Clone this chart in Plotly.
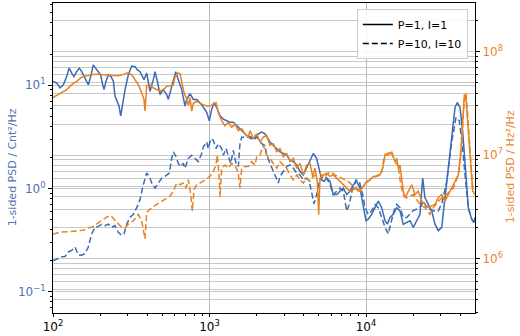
import plotly.graph_objects as go

# ---- data ----
f_p1_cnt = [100, 105.6, 110.8, 116.4, 122.3, 126.6, 131.7, 136.2, 141.7, 147.3, 152.6, 156.2, 162.5, 168.1,
            174.1, 180.9, 190.2, 194.7, 201.7, 206.5, 211.8, 218.1, 225.6, 234.8, 242.9, 249.1, 258, 264.1,
            270.8, 278.9, 288.6, 302.9, 318.4, 334.2, 345, 359.7, 374.2, 381.5, 397, 416.8, 437.6, 448.7,
            464.1, 482.9, 506.9, 532.8, 545.5, 559.3, 587.1, 608.1, 631.9, 664.3, 697.5, 715.2, 750.8, 788.1,
            828.5, 869.7, 912.9, 959.6, 997, 1033, 1069, 1112, 1167, 1225, 1288, 1352, 1420, 1493, 1566, 1644,
            1729, 1861, 1953, 2050, 2155, 2262, 2435, 2556, 2688, 2821, 2962, 3114, 3269, 3432, 3608, 3787,
            3976, 4180, 4387, 4606, 4842, 5030, 5211, 5391, 5609, 5888, 6181, 6497, 6822, 7161, 7528, 7903,
            8295, 8721, 9155, 9610, 10000, 10340, 10870, 11410, 11980, 12600, 13230, 13680, 14230, 14940,
            15710, 16490, 17310, 18200, 19110, 20060, 21090, 22130, 23030, 23820, 25010, 26290, 27600, 28970,
            30460, 31970, 33570, 35290, 37060, 38330, 39870, 41490, 42920, 44010, 45050, 47360, 48990, 49720]
psd_p1_cnt = [10.87, 10.5, 9.4, 10.1, 12.1, 14.6, 13.1, 12.1, 13.5, 14.6, 13.5, 12.6, 11.3, 10.1,
              12.1, 15.7, 14.1, 13.5, 12.6, 10.5, 9.06, 10.9, 12.6, 12.1, 10.9, 7.82, 7.01, 6.28,
              5.05, 6.77, 9.06, 12.6, 15.3, 15.1, 14.1, 13.5, 12.1, 11.3, 13.1, 8.73, 11.3, 13.5,
              10.9, 8.12, 9.06, 8.12, 7.28, 8.43, 10.9, 13.5, 11.3, 9.06, 6.28, 7.28, 8.3, 7.28,
              7.28, 6.77, 6.11, 5.47, 4.52, 5.84, 6.77, 6.07, 5.05, 4.69, 4.52, 4.37, 4.37, 4.05, 3.77, 3.51,
              3.25, 3.14, 3.03, 3.38, 3.51, 3.38, 2.82, 2.61, 2.43, 2.26, 2.18, 2.1, 1.88, 1.82, 1.69, 1.46,
              1.35, 1.57, 1.88, 2.18, 1.95, 1.57, 1.21, 1.17, 1.26, 1.17, 0.873, 0.873, 0.94, 1.01, 0.873, 0.94,
              1.09, 1.17, 1.01, 0.701, 0.487, 0.505, 0.563, 0.652, 0.755, 0.652, 0.487, 0.452, 0.524, 0.563,
              0.652, 0.607, 0.449, 0.469, 0.487, 0.421, 0.487, 0.563, 1.26, 0.812, 0.701, 0.607, 0.452, 0.391,
              0.421, 0.812, 1.69, 3.51, 6.07, 6.77, 6.07, 3.51, 1.69, 0.873, 0.652, 0.505, 0.469, 0.524]

f_p10_cnt = [100, 105.6, 113.7, 119.3, 125.3, 131.7, 138.2, 145.1, 152.6, 160.2, 168.1, 176.7, 185.5, 194.7,
             204.7, 214.9, 225.6, 237.2, 249.1, 261.4, 274.8, 284.3, 295.8, 310.5, 326, 342.7, 359.7, 377.6,
             397, 412.5, 427.4, 448.7, 471, 495.1, 519.7, 553.6, 573.5, 587.1, 610.8, 631.9, 654.6, 680.2,
             697.5, 732.2, 769.9, 808, 848.2, 891.7, 912.9, 959.6, 982.4, 1018, 1058, 1100, 1138, 1197, 1225,
             1275, 1319, 1366, 1420, 1477, 1528, 1566, 1606, 1686, 1770, 1861, 1953, 2050, 2155, 2262, 2320,
             2435, 2556, 2688, 2752, 2821, 2962, 3114, 3269, 3432, 3608, 3787, 3976, 4180, 4342, 4498, 4653,
             4842, 5030, 5336, 5609, 5888, 6181, 6497, 6822, 7161, 7528, 7821, 8222, 8631, 9061, 9526, 9853,
             10340, 10870, 11410, 11980, 12600, 13230, 13880, 14440, 15090, 15710, 16490, 17310, 18200, 20060,
             22130, 23230, 24420, 26920, 28970, 30590, 32790, 35290, 37600, 39470, 41490, 42920, 44010, 45050,
             47360, 48990]
psd_p10_cnt = [0.2, 0.208, 0.218, 0.22, 0.243, 0.252, 0.271, 0.228, 0.226, 0.234, 0.271, 0.363, 0.421, 0.43,
               0.449, 0.437, 0.452, 0.421, 0.437, 0.377, 0.351, 0.363, 0.452, 0.524, 0.563, 0.652, 0.777, 1.09,
               1.41, 1.31, 1.13, 1.01, 1.13, 1.26, 1.31, 1.41, 1.95, 2.26, 2.03, 1.75, 1.63, 1.75,
               1.57, 1.95, 2.1, 1.95, 1.82, 2.18, 2.52, 2.82, 2.43, 3.03, 2.92, 2.43, 2.71, 2.43, 2.1,
               2.43, 2.1, 1.75, 2.34, 1.75, 1.63, 2.71, 3.14, 3.14, 3.14, 3.03, 3.25, 3.03, 2.71, 2.61, 2.1,
               1.75, 1.46, 1.21, 1.13, 1.31, 1.46, 1.63, 1.69, 1.57, 1.41, 1.35, 1.21, 1.26, 1.17, 0.886, 0.712,
               0.873, 1.17, 1.35, 1.26, 1.09, 0.873, 0.94, 1.01, 0.94, 0.607, 0.701, 1.01, 1.21, 1.17, 0.873, 0.652,
               0.563, 0.607, 0.701, 0.652, 0.524, 0.421, 0.363, 0.452, 0.607, 0.701, 0.652, 0.524, 0.524, 0.611,
               0.652, 0.755, 0.652, 0.607, 0.607, 0.727, 1.17, 2.82, 4.87, 4.52, 2.43, 1.35, 0.873, 0.652,
               0.505, 0.469]

f_p1_hz = [100, 105.6, 113.7, 122.3, 131.7, 141.7, 152.6, 164.2, 176.7, 190.2, 204.7, 220.3, 237.2, 255.3,
           274.8, 288.6, 302.9, 318.4, 334.2, 350.8, 368.8, 381.5, 387.2, 397, 416.8, 437.6, 460, 482.9, 506.9,
           532.8, 559.3, 587.1, 602, 624.6, 647.9, 667.3, 687.3, 715.2, 734.4, 750.8, 769.9, 788.1, 828.5,
           891.7, 959.6, 1007, 1058, 1100, 1138, 1197, 1256, 1319, 1387, 1456, 1528, 1606, 1686, 1770, 1815,
           1905, 2003, 2102, 2207, 2320, 2435, 2556, 2688, 2821, 2962, 3114, 3269, 3432, 3608, 3787, 3976,
           4180, 4387, 4565, 4722, 4885, 4986, 5082, 5336, 5609, 5888, 6181, 6497, 6822, 7161, 7528, 7903,
           8295, 8721, 9155, 9610, 10100, 10610, 11130, 11700, 12280, 12790, 13230, 13680, 14230, 14810,
           15320, 15710, 16080, 16490, 16910, 17310, 17750, 18630, 19590, 20560, 21590, 22690, 23820, 25010,
           26290, 27600, 28970, 30460, 31970, 33570, 35290, 37060, 38890, 40290, 41490, 42480, 43560, 44660,
           45720, 46880, 48070, 49720]
psd_p1_hz = [3.6e7, 3.78e7, 4.02e7, 4.32e7, 4.82e7, 5.18e7, 5.7e7, 5.87e7, 6.0e7, 6.09e7, 6.04e7, 5.96e7, 5.87e7,
             5.87e7, 5.96e7, 6.13e7, 6.31e7, 6.0e7, 5.38e7, 4.82e7, 4.02e7, 3.47e7, 2.68e7, 4.71e7, 4.82e7,
             4.48e7, 4.32e7, 4.16e7, 4.32e7, 4.64e7, 4.71e7, 4.82e7, 5.74e7, 6.27e7, 6.13e7, 4.82e7, 4.04e7,
             3.47e7, 3.04e7, 3.6e7, 2.67e7, 3.18e7, 3.34e7, 3.11e7, 2.99e7, 2.99e7, 3.11e7, 3.23e7, 2.59e7,
             2.15e7, 1.93e7, 2.08e7, 1.86e7, 2.0e7, 1.73e7, 1.8e7, 1.61e7, 1.5e7, 1.73e7, 1.44e7, 1.61e7,
             1.34e7, 1.5e7, 1.55e7, 1.25e7, 1.29e7, 1.08e7, 1.16e7, 9.66e6, 1.04e7, 8.65e6, 9.3e6, 7.47e6,
             8.34e6, 6.45e6, 8.03e6, 8.34e6, 6.23e6, 7.47e6, 5.58e6, 2.67e6, 6.0e6, 6.45e6, 6.7e6, 6.23e6,
             6.45e6, 6.0e6, 5.58e6, 5.18e6, 4.82e6, 4.48e6, 4.64e6, 4.82e6, 4.48e6, 5.0e6, 5.58e6, 5.78e6,
             6.23e6, 6.23e6, 6.45e6, 7.47e6, 1.0e7, 1.04e7, 1.06e7, 1.0e7, 8.65e6, 9.3e6, 7.47e6, 8.03e6,
             5.58e6, 4.48e6, 3.87e6, 4.48e6, 5.18e6, 4.16e6, 4.48e6, 3.6e6, 3.34e6, 3.11e6, 3.23e6, 3.34e6,
             3.87e6, 4.16e6, 3.6e6, 4.16e6, 4.82e6, 5.58e6, 6.45e6, 1.0e7, 2.4e7, 3.87e7, 3.47e7, 2.08e7,
             1.16e7, 6.45e6, 4.48e6, 4.16e6]

f_p10_hz = [100, 110.8, 128.4, 156.2, 180.9, 204.7, 220.3, 233.7, 249.1, 268, 288.6, 302.9, 326, 350.8, 368.8,
            387.2, 397, 427.4, 460, 495.1, 532.8, 559.3, 587.1, 617.2, 647.9, 680.2, 707.8, 732.2, 758.6,
            776.6, 796.2, 828.5, 869.7, 936, 1007, 1058, 1100, 1121, 1155, 1167, 1197, 1256, 1319, 1387, 1456,
            1528, 1566, 1606, 1686, 1770, 1861, 1953, 2003, 2102, 2207, 2320, 2435, 2556, 2688, 2821, 2962,
            3114, 3269, 3432, 3608, 3787, 3976, 4180, 4387, 4606, 4842, 5082, 5336, 5609, 5888, 6337, 6653,
            6994, 7342, 7707, 8101, 8505, 8928, 9386, 9853, 10340, 10870, 11410, 11980, 12600, 12900, 13230,
            13880, 14590, 15090, 15540, 16080, 16660, 17310, 18200, 20060, 22130, 23820, 25640, 26920, 29710,
            32790, 36140, 38890, 40880, 42290, 43560, 44660, 45720, 46670, 48070, 49720]
psd_p10_hz = [1.72e6, 1.8e6, 1.82e6, 1.88e6, 2.05e6, 2.32e6, 2.52e6, 2.61e6, 2.34e6, 2.08e6, 1.98e6, 2.15e6,
              2.32e6, 2.68e6, 2.32e6, 1.55e6, 2.79e6, 3.11e6, 3.34e6, 3.6e6, 3.87e6, 4.02e6, 4.48e6, 5.38e6,
              5.18e6, 5.38e6, 4.82e6, 5.78e6, 4.16e6, 2.89e6, 4.64e6, 5.18e6, 5.38e6, 5.78e6, 6.23e6, 6.95e6,
              8.03e6, 1.0e7, 6.0e6, 3.93e6, 7.47e6, 8.03e6, 7.47e6, 8.34e6, 8.03e6, 6.7e6, 4.82e6, 7.47e6,
              7.76e6, 7.76e6, 8.65e6, 8.03e6, 9.66e6, 1.0e7, 1.25e7, 1.0e7, 9.3e6, 8.34e6, 7.47e6, 8.65e6,
              8.03e6, 7.47e6, 6.45e6, 5.78e6, 6.45e6, 5.78e6, 5.38e6, 6.0e6, 5.58e6, 6.23e6, 6.45e6, 6.7e6,
              6.0e6, 6.45e6, 6.95e6, 6.45e6, 6.23e6, 6.0e6, 5.78e6, 5.58e6, 5.18e6, 4.82e6, 4.48e6, 4.82e6,
              5.18e6, 5.58e6, 6.0e6, 6.23e6, 6.45e6, 6.7e6, 8.65e6, 1.02e7, 1.0e7, 1.08e7, 9.3e6, 8.34e6,
              8.03e6, 5.18e6, 4.16e6, 3.87e6, 4.16e6, 3.34e6, 3.11e6, 2.68e6, 3.11e6, 3.73e6, 4.16e6, 4.82e6,
              6.45e6, 1.34e7, 3.11e7, 4.02e7, 2.4e7, 1.44e7, 8.03e6, 4.82e6, 4.48e6]

legend_labels = ["P=1, I=1", "P=10, I=10"]
x_tickvals = [100, 1000, 10000]
x_ticktext = ["10<sup>2</sup>", "10<sup>3</sup>", "10<sup>4</sup>"]
yl_tickvals = [0.1, 1, 10]
yl_ticktext = ["10<sup>\u22121</sup>", "10<sup>0</sup>", "10<sup>1</sup>"]
yr_tickvals = [1e6, 1e7, 1e8]
yr_ticktext = ["10<sup>6</sup>", "10<sup>7</sup>", "10<sup>8</sup>"]
left_title = "1-sided PSD / Cnt\u00b2/Hz"
right_title = "1-sided PSD / Hz\u00b2/Hz"

# minor tick positions (2..9 x each decade)
x_minor = [m * 10 ** e for e in (2, 3, 4) for m in range(2, 10)]
yl_minor = [m * 10 ** e for e in (-2, -1, 0, 1) for m in range(2, 10)]
yr_minor = [m * 10 ** e for e in (5, 6, 7, 8) for m in range(2, 10)]

BLUE = "#3b6cb2"
ORANGE = "#e8811f"
BLUE_T = "#4a74b4"
ORANGE_T = "#e8862e"
GRID = "#c8c8c8"
DASH = "6px,3px"

fig = go.Figure()
fig.add_trace(go.Scatter(x=f_p1_cnt, y=psd_p1_cnt, mode="lines", line=dict(color=BLUE, width=1.5),
                         showlegend=False, yaxis="y"))
fig.add_trace(go.Scatter(x=f_p10_cnt, y=psd_p10_cnt, mode="lines", line=dict(color=BLUE, width=1.5, dash=DASH),
                         showlegend=False, yaxis="y"))
fig.add_trace(go.Scatter(x=f_p1_hz, y=psd_p1_hz, mode="lines", line=dict(color=ORANGE, width=1.5),
                         showlegend=False, yaxis="y2"))
fig.add_trace(go.Scatter(x=f_p10_hz, y=psd_p10_hz, mode="lines", line=dict(color=ORANGE, width=1.5, dash=DASH),
                         showlegend=False, yaxis="y2"))
# legend entries (black)
fig.add_trace(go.Scatter(x=[None], y=[None], mode="lines", line=dict(color="black", width=1.5),
                         name=legend_labels[0]))
fig.add_trace(go.Scatter(x=[None], y=[None], mode="lines", line=dict(color="black", width=1.5, dash=DASH),
                         name=legend_labels[1]))

font = "DejaVu Sans, sans-serif"
fig.update_layout(
    width=520, height=336,
    margin=dict(l=53, r=45, t=2, b=19),
    plot_bgcolor="white", paper_bgcolor="white",
    font=dict(family=font, size=11, color="black"),
    xaxis=dict(type="log", range=[2, 4.6965],
               tickmode="array", tickvals=x_tickvals, ticktext=x_ticktext,
               ticks="outside", ticklen=3, tickcolor="black", tickfont=dict(size=12, color="black"),
               showgrid=True, gridcolor="#b8b8b8", gridwidth=0.8,
               showline=True, linecolor="black", linewidth=1, mirror=True,
               minor=dict(tickmode="array", tickvals=x_minor, ticks="outside", ticklen=2,
                          tickcolor="black", showgrid=False),
               zeroline=False),
    yaxis=dict(type="log", range=[-1.205, 1.795],
               tickmode="array", tickvals=yl_tickvals, ticktext=yl_ticktext,
               ticks="outside", ticklen=4, tickcolor="black", tickfont=dict(size=12, color=BLUE_T),
               showgrid=True, gridcolor=GRID, gridwidth=0.8,
               showline=True, linecolor="black", linewidth=1,
               minor=dict(tickmode="array", tickvals=yl_minor, ticks="outside", ticklen=2,
                          tickcolor="black", showgrid=False),
               zeroline=False),
    yaxis2=dict(type="log", range=[5.473, 8.473], overlaying="y", side="right",
                tickmode="array", tickvals=yr_tickvals, ticktext=yr_ticktext,
                ticks="outside", ticklen=4, tickcolor="black", tickfont=dict(size=12, color=ORANGE_T),
                showgrid=True, gridcolor=GRID, gridwidth=0.8,
                showline=True, linecolor="black", linewidth=1,
                minor=dict(tickmode="array", tickvals=yr_minor, ticks="outside", ticklen=2,
                           tickcolor="black", showgrid=True, gridcolor=GRID, gridwidth=0.8),
                zeroline=False),
    legend=dict(x=0.983, y=0.981, xanchor="right", yanchor="top",
                bgcolor="rgba(255,255,255,0.85)", bordercolor="#cccccc", borderwidth=1,
                font=dict(size=11, color="black"), tracegroupgap=0, itemwidth=30),
    annotations=[
        dict(text=left_title, xref="paper", yref="paper", x=-0.097, y=0.47, xanchor="center",
             yanchor="middle", textangle=-90, showarrow=False, font=dict(size=11, color=BLUE_T)),
        dict(text=right_title, xref="paper", yref="paper", x=1.083, y=0.47, xanchor="center",
             yanchor="middle", textangle=-90, showarrow=False, font=dict(size=11, color=ORANGE_T)),
    ],
)

fig.write_html("out.html", config={"displayModeBar": False},
               post_script="document.body.style.margin='0';document.body.style.overflow='hidden';")
